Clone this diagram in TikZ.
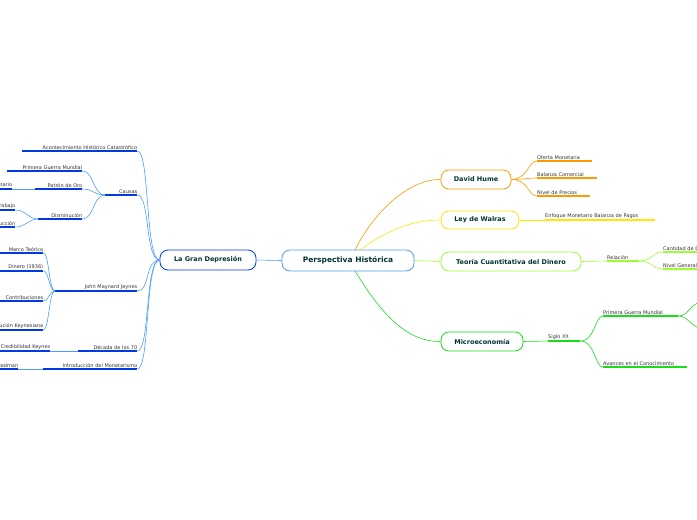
\documentclass[tikz,border=0pt]{standalone}
\usepackage{fontspec}
\setmainfont{DejaVu Sans}
\begin{document}
\begin{tikzpicture}[x=1pt,y=-1pt,
  leaftxt/.style={inner xsep=0pt,inner ysep=1.5pt,font=\fontsize{5}{6}\selectfont,text=black!80,anchor=south west},
  main/.style={draw=#1,rounded corners=8pt,line width=0.8pt,fill=white,font=\bfseries\fontsize{6.5}{8}\selectfont,text=teal!40!black,inner sep=0pt},
  conn/.style={draw=#1,line width=0.6pt},
  ul/.style={draw=#1,line width=1.2pt}]
\useasboundingbox (0,0) rectangle (697,520);
\clip (0,0) rectangle (697,520);
\colorlet{cb}{blue!55!cyan!70!white}
\colorlet{db}{blue!75!cyan!90!black}
\colorlet{co}{orange!80!yellow}
\colorlet{cy}{yellow!90!orange}
\colorlet{cl}{green!50!yellow!80!white}
\colorlet{cg}{green!85!black!90!white}
\newcommand\leaf[7]{\node[leaftxt,text width=#3-#2,align=#7] (#1) at (#2,#4) {#5};
  \draw[ul=#6] (#1.south west) -- (#1.south east);}
% main nodes
\node[main=cb,minimum width=132,minimum height=21,font=\bfseries\fontsize{7.5}{9}\selectfont] (P) at (348,260.5) {Perspectiva Histórica};
\node[main=db,minimum width=96,minimum height=20] (G) at (208,260) {La Gran Depresión};
\node[main=co,minimum width=70,minimum height=19] (H) at (476,179.5) {David Hume};
\node[main=cy,minimum width=78,minimum height=18] (W) at (480,220) {Ley de Walras};
\node[main=cl,minimum width=140,minimum height=19] (T) at (511,261.5) {Teoría Cuantitativa del Dinero};
\node[main=cg,minimum width=82,minimum height=19] (M) at (482,341.5) {Microeconomía};
% central connectors
\draw[conn=cb] (P.west) -- (G.east);
\draw[conn=co] (355,250) .. controls (375,210) and (410,179) .. (H.west);
\draw[conn=cy] (360,250) .. controls (390,228) and (415,220) .. (W.west);
\draw[conn=cl] (P.east) -- (T.west);
\draw[conn=cg] (355,271) .. controls (385,320) and (410,342) .. (M.west);
% left leaves
\leaf{a1}{22}{137}{151}{Acontecimiento Histórico Catastrófico}{db}{right}
\leaf{a2}{105}{137}{195}{Causas}{db}{right}
\leaf{a3}{55}{137}{291}{John Maynard Jeynes}{db}{right}
\leaf{a4}{78}{137}{351}{Década de los 70}{db}{right}
\leaf{a5}{43}{137}{369}{Introducción del Monetarismo}{db}{right}
\foreach \n in {a1,a2,a3,a4,a5}
  \draw[conn=cb] (G.west) .. controls (145,260) and (150,0|-\n.south east) .. (\n.south east);
\leaf{b1}{7}{82}{171}{Primera Guerra Mundial}{db}{right}
\leaf{b2}{35}{82}{189}{Patrón de Oro}{db}{right}
\leaf{b3}{38}{82}{219}{Disminución}{db}{right}
\foreach \n in {b1,b2,b3}
  \draw[conn=cb] (a2.south west) .. controls (93,195) and (94,0|-\n.south east) .. (\n.south east);
\leaf{c1}{-80}{12}{189}{Desempleo Monetario}{db}{right}
\draw[conn=cb] (b2.south west) -- (c1.south east);
\leaf{c2}{-80}{15}{210}{Trabajo}{db}{right}
\leaf{c3}{-80}{15}{227}{Producción}{db}{right}
\foreach \n in {c2,c3}
  \draw[conn=cb] (b3.south west) .. controls (28,219) and (26,0|-\n.south east) .. (\n.south east);
\leaf{d1}{-80}{43}{253}{Marco Teórico}{db}{right}
\leaf{d2}{-80}{43}{271}{Dinero (1936)}{db}{right}
\leaf{d3}{-80}{43}{301}{Contribuciones}{db}{right}
\leaf{d4}{-80}{43}{330}{Revolución Keynesiana}{db}{right}
\foreach \n in {d1,d2,d3,d4}
  \draw[conn=cb] (a3.south west) .. controls (49,291) and (49,0|-\n.south east) .. (\n.south east);
\leaf{e1}{-80}{50}{351}{Credibilidad Keynes}{db}{right}
\draw[conn=cb] (a4.south west) -- (e1.south east);
\leaf{f1}{-80}{18}{369}{Milton Friedman}{db}{right}
\draw[conn=cb] (a5.south west) -- (f1.south east);
% right: Hume
\leaf{h1}{537}{592}{161}{Oferta Monetaria}{co}{left}
\leaf{h2}{537}{597}{178}{Balanza Comercial}{co}{left}
\leaf{h3}{537}{590}{196}{Nivel de Precios}{co}{left}
\foreach \n in {h1,h2,h3}
  \draw[conn=co] (H.east) .. controls (528,179) and (528,0|-\n.south west) .. (\n.south west);
\leaf{w1}{545}{655}{220}{Enfoque Monetario Balanza de Pagos}{cy}{left}
\draw[conn=cy] (W.east) -- (w1.south west);
\leaf{t1}{607}{639}{261}{Relación}{cl}{left}
\draw[conn=cl] (T.east) -- (t1.south west);
\leaf{t2}{663}{760}{252}{Cantidad de Dinero}{cl}{left}
\leaf{t3}{663}{760}{269}{Nivel General de Precios}{cl}{left}
\foreach \n in {t2,t3}
  \draw[conn=cl] (t1.south east) .. controls (652,261) and (652,0|-\n.south west) .. (\n.south west);
\leaf{m1}{548}{580}{341}{Siglo XX}{cg}{left}
\draw[conn=cg] (M.east) -- (m1.south west);
\leaf{m2}{603}{678}{316}{Primera Guerra Mundial}{cg}{left}
\leaf{m3}{603}{687}{367}{Avances en el Conocimiento}{cg}{left}
\foreach \n in {m2,m3}
  \draw[conn=cg] (m1.south east) .. controls (595,341) and (595,0|-\n.south west) .. (\n.south west);
\coordinate (x1) at (710,300); \coordinate (x2) at (710,330);
\foreach \n in {x1,x2}
  \draw[conn=cg] (m2.south east) .. controls (690,316) and (690,0|-\n) .. (\n);
\end{tikzpicture}
\end{document}
